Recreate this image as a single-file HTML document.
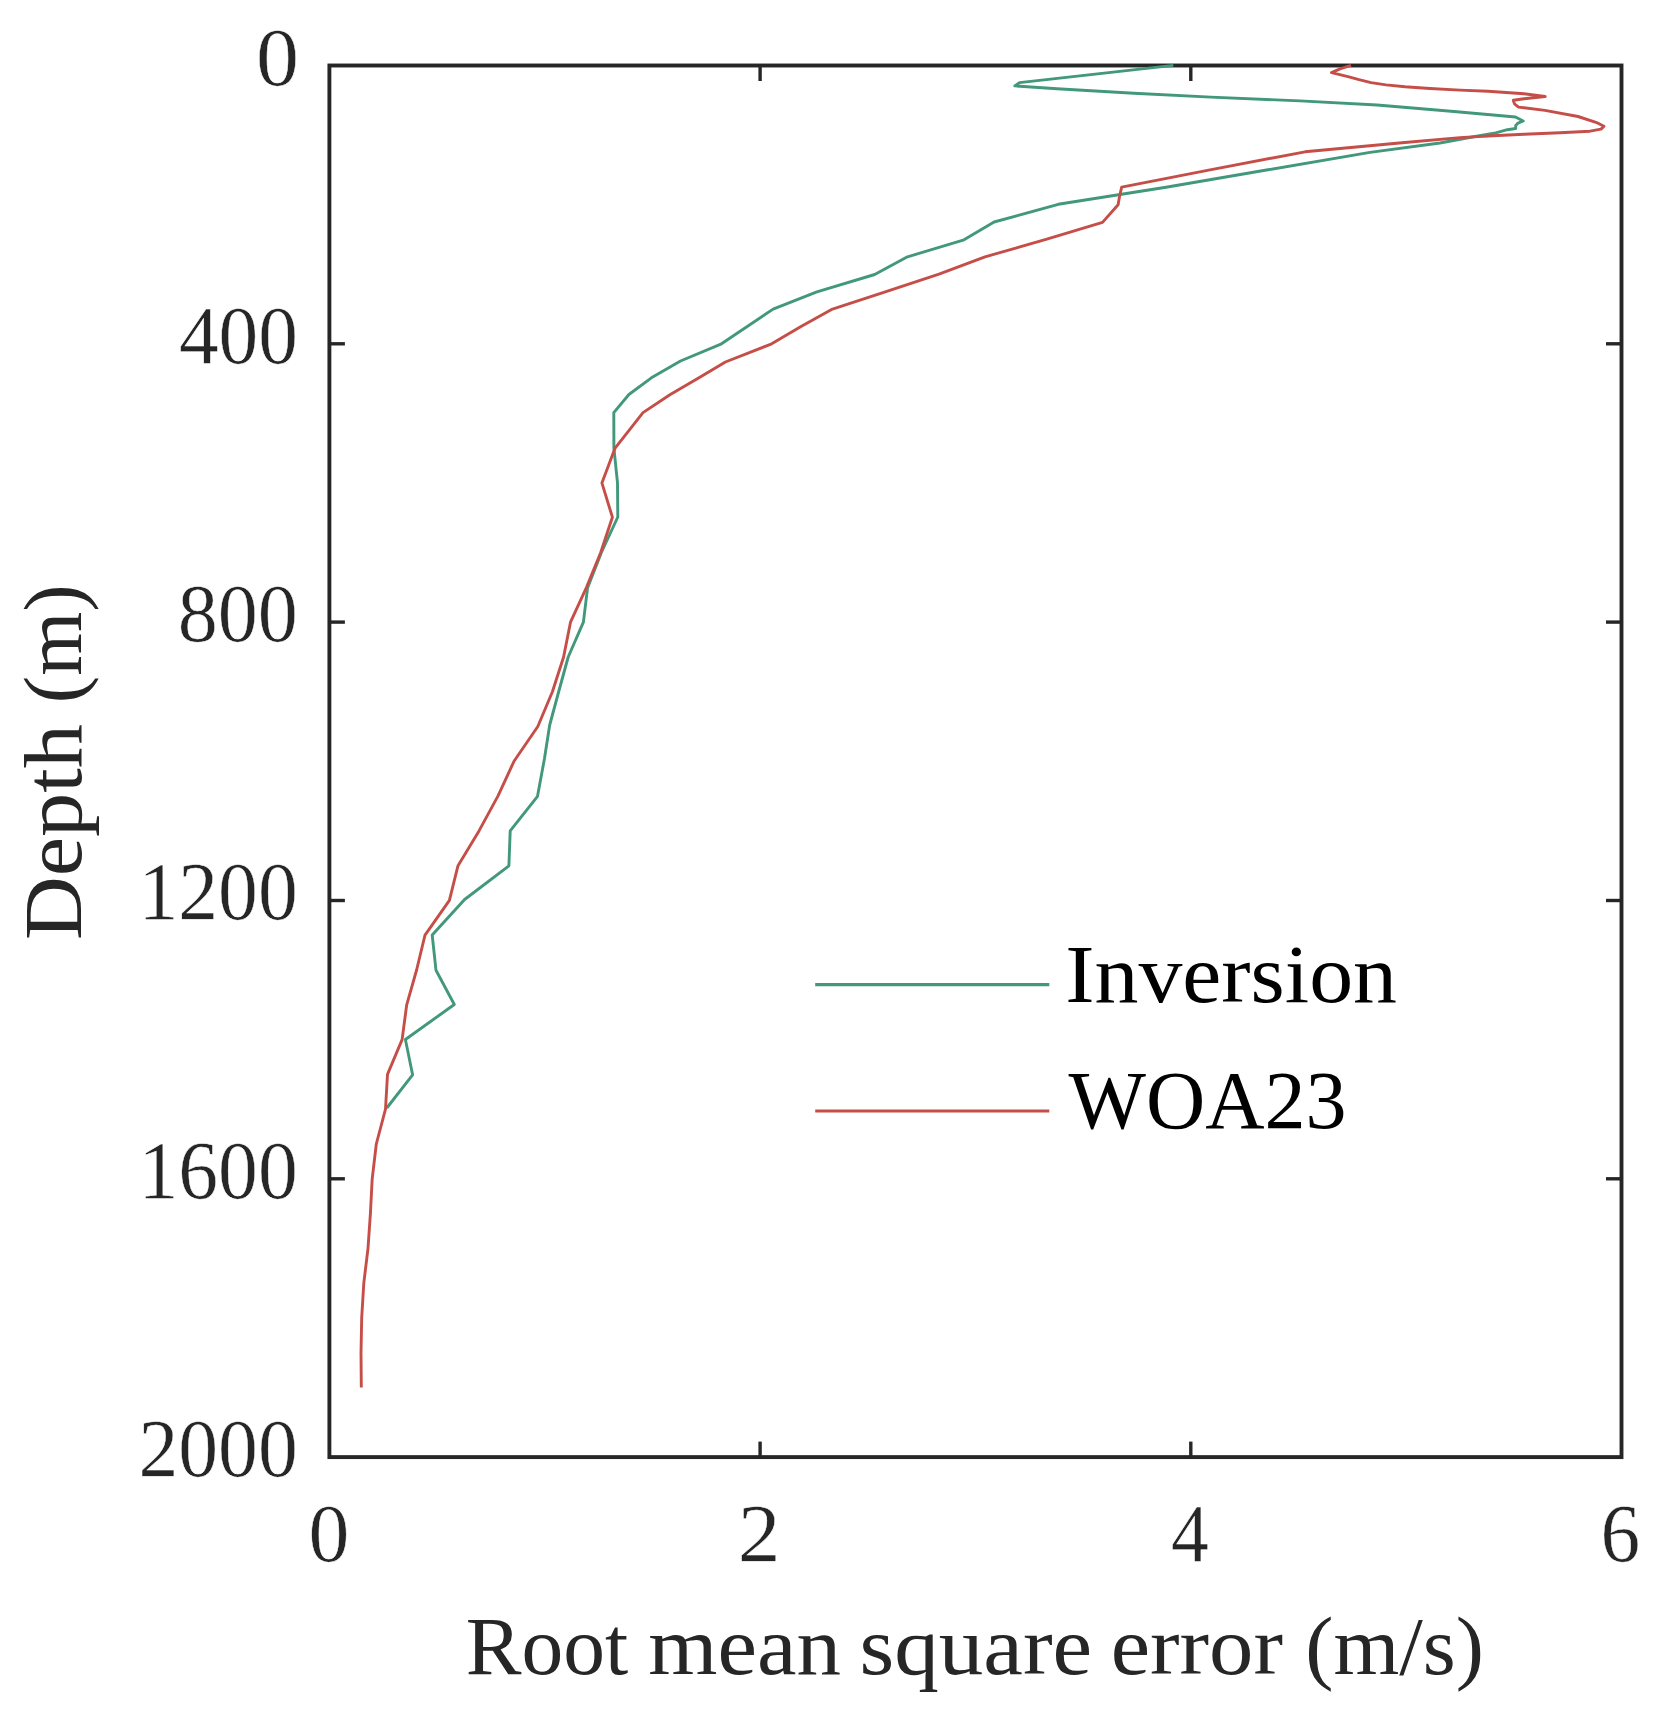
<!DOCTYPE html>
<html lang="en">
<head>
<meta charset="utf-8">
<title>Root mean square error vs depth</title>
<style>
html,body{margin:0;padding:0;background:#fff;}
body{width:1664px;height:1725px;overflow:hidden;}
svg{display:block;}
text{font-family:"Liberation Serif",serif;font-size:82px;}
.tick{fill:#262626;stroke:#fff;stroke-width:0.5px;paint-order:fill stroke;}
.lab{fill:#262626;}
.leg{fill:#000;}
</style>
</head>
<body>
<svg width="1664" height="1725" viewBox="0 0 1664 1725">
<rect x="0" y="0" width="1664" height="1725" fill="#ffffff"/>

<rect x="329.4" y="65.5" width="1292.1" height="1391.6" fill="none" stroke="#262626" stroke-width="3.9"/>
<g stroke="#262626" stroke-width="3.4">
<line x1="760.1" y1="1457.1" x2="760.1" y2="1441.6"/>
<line x1="760.1" y1="65.5" x2="760.1" y2="81.0"/>
<line x1="1190.8" y1="1457.1" x2="1190.8" y2="1441.6"/>
<line x1="1190.8" y1="65.5" x2="1190.8" y2="81.0"/>
<line x1="329.4" y1="343.8" x2="344.9" y2="343.8"/>
<line x1="1621.5" y1="343.8" x2="1606.0" y2="343.8"/>
<line x1="329.4" y1="622.1" x2="344.9" y2="622.1"/>
<line x1="1621.5" y1="622.1" x2="1606.0" y2="622.1"/>
<line x1="329.4" y1="900.5" x2="344.9" y2="900.5"/>
<line x1="1621.5" y1="900.5" x2="1606.0" y2="900.5"/>
<line x1="329.4" y1="1178.8" x2="344.9" y2="1178.8"/>
<line x1="1621.5" y1="1178.8" x2="1606.0" y2="1178.8"/>
</g>
<clipPath id="c"><rect x="329.4" y="63.7" width="1292.1" height="1393.4"/></clipPath>
<g fill="none" stroke-width="2.9" stroke-linejoin="round" stroke-linecap="butt" clip-path="url(#c)">
<polyline stroke="#42987a" points="1173.3,65.4 1019.5,82.6 1014.8,85.9 1057.0,88.7 1133.8,93.3 1210.8,97.1 1300.0,100.9 1377.0,105.0 1454.0,111.5 1515.5,117.0 1523.2,121.0 1518.0,123.1 1515.7,125.5 1515.7,128.5 1507.3,129.7 1494.1,133.3 1473.7,136.8 1440.0,143.0 1370.0,152.4 1268.0,169.8 1166.0,187.2 1058.3,204.3 994.1,222.0 964.0,239.8 907.5,256.8 874.7,274.5 816.9,291.8 773.1,309.1 721.5,343.8 680.5,361.0 651.4,377.8 628.9,394.5 613.8,412.6 613.9,448.1 617.5,482.9 617.8,517.0 601.4,552.5 587.6,587.6 583.4,622.2 568.2,657.0 559.0,690.5 549.7,725.0 544.4,759.0 537.5,796.3 510.2,830.9 508.9,865.8 464.6,899.5 432.2,935.0 436.0,970.3 454.3,1004.5 405.4,1039.5 412.6,1074.8 386.8,1108.0"/>
<polyline stroke="#c64e48" points="1351.0,65.4 1340.0,68.9 1331.5,72.6 1348.0,76.6 1359.0,79.7 1371.0,82.6 1386.0,84.9 1405.0,86.7 1430.0,88.5 1460.0,90.1 1488.0,91.2 1524.0,93.7 1545.2,96.5 1524.0,98.7 1513.3,100.3 1514.5,103.9 1518.5,107.1 1545.0,110.4 1578.0,116.5 1596.0,122.3 1604.0,126.2 1601.0,129.1 1590.0,131.2 1560.0,132.7 1524.0,134.3 1488.0,136.0 1460.0,137.6 1402.0,142.8 1305.0,151.8 1210.0,169.8 1121.7,187.1 1119.6,196.0 1118.1,204.7 1102.5,222.4 1046.0,239.4 985.0,256.8 939.0,274.2 886.0,291.6 832.5,309.1 801.0,326.5 771.7,343.8 725.4,362.0 699.0,377.8 669.9,394.7 643.0,412.6 615.1,448.1 601.9,482.9 612.4,517.2 600.7,552.5 586.5,587.3 570.5,622.2 563.6,657.0 552.4,691.8 537.8,726.5 514.0,761.3 497.9,796.1 479.0,830.9 458.0,865.7 449.4,900.4 425.0,935.2 416.6,970.0 406.7,1004.8 402.1,1039.6 387.5,1074.4 385.5,1109.2 376.3,1144.0 372.2,1178.8 370.4,1213.6 368.0,1248.3 363.8,1283.1 361.7,1317.9 361.0,1352.7 361.3,1387.5"/>
</g>
<g class="tick">
<text class="tick" x="256.05" y="85.1" textLength="42.99" lengthAdjust="spacingAndGlyphs">0</text>
<text class="tick" x="178.93" y="363.4" textLength="119.07" lengthAdjust="spacingAndGlyphs">400</text>
<text class="tick" x="177.77" y="641.1" textLength="120.06" lengthAdjust="spacingAndGlyphs">800</text>
<text class="tick" x="138.40" y="918.6" textLength="159.42" lengthAdjust="spacingAndGlyphs">1200</text>
<text class="tick" x="138.40" y="1198.3" textLength="159.42" lengthAdjust="spacingAndGlyphs">1600</text>
<text class="tick" x="138.38" y="1475.9" textLength="159.43" lengthAdjust="spacingAndGlyphs">2000</text>
<text class="tick" x="308.51" y="1561.3" textLength="40.88" lengthAdjust="spacingAndGlyphs">0</text>
<text class="tick" x="737.77" y="1561.3" textLength="42.81" lengthAdjust="spacingAndGlyphs">2</text>
<text class="tick" x="1170.98" y="1561.3" textLength="37.85" lengthAdjust="spacingAndGlyphs">4</text>
<text class="tick" x="1600.49" y="1561.3" textLength="39.75" lengthAdjust="spacingAndGlyphs">6</text>
</g>
<g class="lab">
<text class="lab" x="465.76" y="1674.4" textLength="162.43" lengthAdjust="spacingAndGlyphs">Root</text>
<text class="lab" x="648.33" y="1674.4" textLength="192.68" lengthAdjust="spacingAndGlyphs">mean</text>
<text class="lab" x="859.54" y="1674.4" textLength="232.64" lengthAdjust="spacingAndGlyphs">square</text>
<text class="lab" x="1110.76" y="1674.4" textLength="172.20" lengthAdjust="spacingAndGlyphs">error</text>
<text class="lab" x="1305.30" y="1674.4" textLength="178.69" lengthAdjust="spacingAndGlyphs">(m/s)</text>
</g>
<g class="lab" transform="translate(81.1,937.8) rotate(-90)">
<text class="lab" x="-2.15" y="0.0" textLength="215.79" lengthAdjust="spacingAndGlyphs">Depth</text>
<text class="lab" x="234.59" y="0.0" textLength="118.83" lengthAdjust="spacingAndGlyphs">(m)</text>
</g>
<line x1="815.2" y1="984.6" x2="1049.3" y2="984.6" stroke="#42987a" stroke-width="3.2"/>
<line x1="815.2" y1="1111" x2="1049.3" y2="1111" stroke="#c64e48" stroke-width="3.2"/>
<text class="leg" x="1065.29" y="1001.8" textLength="331.67" lengthAdjust="spacingAndGlyphs">Inversion</text>
<text class="leg" x="1068.50" y="1127.6" textLength="278.05" lengthAdjust="spacingAndGlyphs">WOA23</text>
</svg>
</body>
</html>
